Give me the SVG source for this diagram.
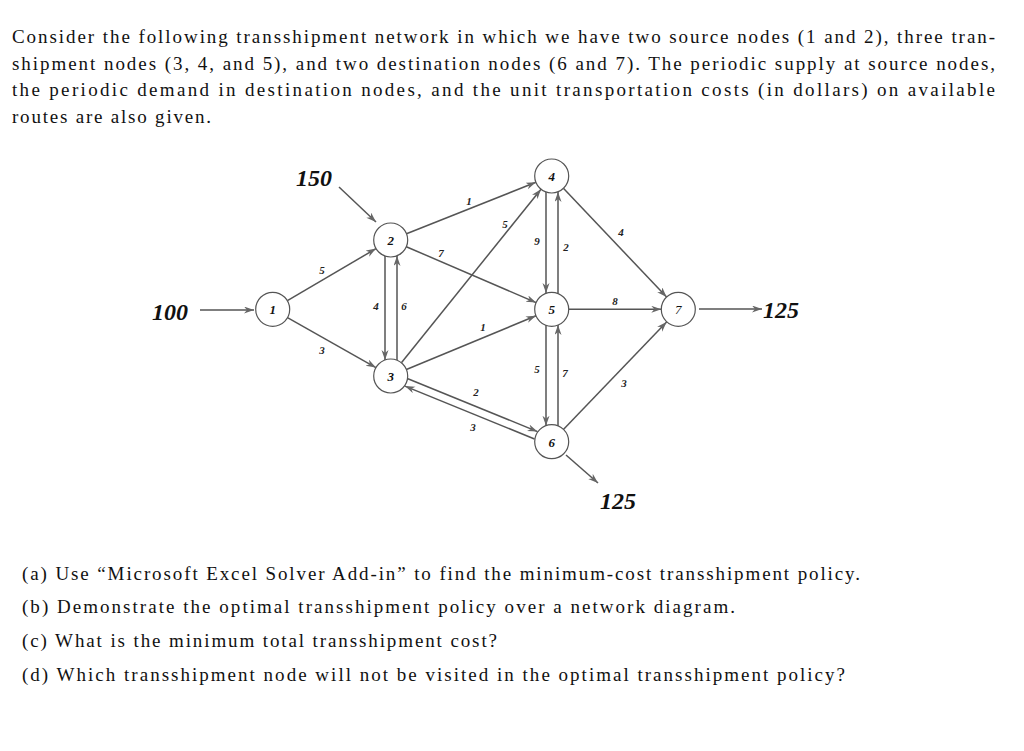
<svg xmlns="http://www.w3.org/2000/svg" width="1024" height="751" viewBox="0 0 1024 751">
<style>
.t{font-family:"Liberation Serif","DejaVu Serif",serif;font-size:19px;fill:#111}
.n circle{fill:#fff;stroke:#555;stroke-width:1.2}
.n text{font-family:"Liberation Serif",serif;font-style:italic;font-weight:bold;font-size:13px;text-anchor:middle;fill:#111}
.c line{stroke:#555;stroke-width:1.5;marker-end:url(#a)}
.l{font-family:"Liberation Serif",serif;font-style:italic;font-weight:bold;font-size:11px;fill:#222;text-anchor:middle}
.b{font-family:"Liberation Serif",serif;font-style:italic;font-weight:bold;font-size:24px;fill:#111}
</style>
<defs><marker id="a" markerUnits="userSpaceOnUse" markerWidth="11" markerHeight="8" refX="10" refY="3.5" orient="auto"><path d="M0,0 L10,3.5 L0,7 L3,3.5z" fill="#666"/></marker></defs>
<rect width="1024" height="751" fill="#fff"/>
<text class="t" x="12" y="43" textLength="983" lengthAdjust="spacing">Consider the following transshipment network in which we have two source nodes (1 and 2), three tran-</text>
<text class="t" x="12" y="70" textLength="983" lengthAdjust="spacing">shipment nodes (3, 4, and 5), and two destination nodes (6 and 7). The periodic supply at source nodes,</text>
<text class="t" x="12" y="96" textLength="983" lengthAdjust="spacing">the periodic demand in destination nodes, and the unit transportation costs (in dollars) on available</text>
<text class="t" x="12" y="123" textLength="199" lengthAdjust="spacing">routes are also given.</text>
<text class="t" x="22" y="580" textLength="838" lengthAdjust="spacing">(a) Use “Microsoft Excel Solver Add-in” to find the minimum-cost transshipment policy.</text>
<text class="t" x="22" y="613" textLength="713" lengthAdjust="spacing">(b) Demonstrate the optimal transshipment policy over a network diagram.</text>
<text class="t" x="22" y="647" textLength="475" lengthAdjust="spacing">(c) What is the minimum total transshipment cost?</text>
<text class="t" x="22" y="681" textLength="823" lengthAdjust="spacing">(d) Which transshipment node will not be visited in the optimal transshipment policy?</text>
<g class="c" id="connectors">
<line x1="339" y1="187" x2="376" y2="222"/>
<line x1="200" y1="310" x2="254" y2="310"/>
<line x1="699" y1="309" x2="762" y2="309"/>
<line x1="566" y1="455" x2="598" y2="483"/>
<line x1="287.4" y1="300.7" x2="376" y2="248.6"/>
<line x1="287.5" y1="317.7" x2="375.9" y2="367.6"/>
<line x1="406.5" y1="233.7" x2="535.9" y2="182.3"/>
<line x1="406.3" y1="246.7" x2="536.1" y2="302.6"/>
<line x1="401.4" y1="362.8" x2="541" y2="189.2"/>
<line x1="406.4" y1="369.5" x2="536" y2="315.8"/>
<line x1="407.9" y1="378.7" x2="537.5" y2="431.6"/>
<line x1="534.5" y1="439" x2="404.9" y2="386.1"/>
<line x1="563.4" y1="188.3" x2="666.6" y2="297"/>
<line x1="568.7" y1="309.3" x2="661.3" y2="309.3"/>
<line x1="563.4" y1="429.4" x2="666.6" y2="322"/>
<line x1="385" y1="256" x2="385" y2="360"/>
<line x1="397" y1="360" x2="397" y2="256"/>
<line x1="546" y1="192" x2="546" y2="293"/>
<line x1="558" y1="293" x2="558" y2="192"/>
<line x1="546" y1="325" x2="546" y2="425.7"/>
<line x1="558" y1="425.7" x2="558" y2="325"/>
</g>
<g class="labels">
<text class="l" x="322" y="274">5</text>
<text class="l" x="322" y="354">3</text>
<text class="l" x="469" y="205">1</text>
<text class="l" x="505" y="228">5</text>
<text class="l" x="441" y="257">7</text>
<text class="l" x="483" y="331">1</text>
<text class="l" x="476" y="396">2</text>
<text class="l" x="473" y="431">3</text>
<text class="l" x="376" y="310">4</text>
<text class="l" x="404" y="310">6</text>
<text class="l" x="537" y="245">9</text>
<text class="l" x="566" y="251">2</text>
<text class="l" x="537" y="373">5</text>
<text class="l" x="565" y="377">7</text>
<text class="l" x="621" y="236">4</text>
<text class="l" x="615" y="305">8</text>
<text class="l" x="624" y="387">3</text>
</g>
<text class="b" x="296" y="186">150</text>
<text class="b" x="152" y="320">100</text>
<text class="b" x="763" y="318">125</text>
<text class="b" x="600" y="509">125</text>
<g class="n" id="node1"><circle cx="272.7" cy="309.3" r="17"/><text x="272.7" y="314">1</text></g>
<g class="n" id="node2"><circle cx="390.7" cy="240" r="17"/><text x="390.7" y="245">2</text></g>
<g class="n" id="node3"><circle cx="390.7" cy="376" r="17"/><text x="390.7" y="381">3</text></g>
<g class="n" id="node4"><circle cx="551.7" cy="176" r="17"/><text x="551.7" y="181">4</text></g>
<g class="n" id="node5"><circle cx="551.7" cy="309.3" r="17"/><text x="551.7" y="314">5</text></g>
<g class="n" id="node6"><circle cx="551.7" cy="441.7" r="17"/><text x="551.7" y="446.5">6</text></g>
<g class="n" id="node7"><circle cx="678.3" cy="309.3" r="17"/><text x="678.3" y="314" style="font-weight:normal">7</text></g>
</svg>
